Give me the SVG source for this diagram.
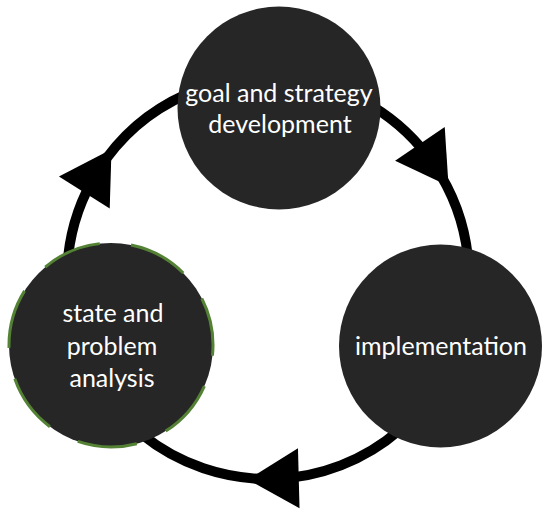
<svg xmlns="http://www.w3.org/2000/svg" width="550" height="515" viewBox="0 0 550 515">
  <style>
    .ring { fill: none; stroke: #000000; stroke-width: 10; marker-mid: url(#arrow); }
    .node { fill: #262626; }
    .dashed { stroke: #548235; stroke-width: 3; stroke-dasharray: 60 31.56; stroke-dashoffset: 49.3; }
    .label { font-family: Lato, "Open Sans", "DejaVu Sans", sans-serif; font-size: 25px; fill: #ffffff; text-anchor: middle; }
  </style>
  <defs>
    <marker id="arrow" markerUnits="userSpaceOnUse" viewBox="-30 -30 60 60" refX="0" refY="0" markerWidth="60" markerHeight="60" orient="auto" overflow="visible">
      <polygon points="-25.5,-30 25.5,0 -25.5,30" fill="#000000"/>
    </marker>
  </defs>
  <rect width="550" height="515" fill="#ffffff"/>
  <g id="connectors">
    <path class="ring" d="M67.49,263.98 A201,201 0 0 1 97.92,170.89 A201,201 0 0 1 186.25,94.38"/>
    <path class="ring" d="M371.52,105.71 A201,201 0 0 1 434.24,165.02 A201,201 0 0 1 467.90,256.99"/>
    <path class="ring" d="M399.87,429.70 A201,201 0 0 1 273.26,478.93 A201,201 0 0 1 141.51,434.21"/>
  </g>
  <g id="goal">
    <circle class="node" cx="279" cy="108" r="101.5"/>
    <text class="label" x="279" y="102">goal and strategy</text>
    <text class="label" x="280" y="133">development</text>
  </g>
  <g id="implementation">
    <circle class="node" cx="440.5" cy="346" r="101.5"/>
    <text class="label" x="441" y="355">implementation</text>
  </g>
  <g id="analysis">
    <circle class="node dashed" cx="111" cy="345" r="102"/>
    <text class="label" x="113" y="322">state and</text>
    <text class="label" x="112" y="355">problem</text>
    <text class="label" x="112" y="387">analysis</text>
  </g>
</svg>
